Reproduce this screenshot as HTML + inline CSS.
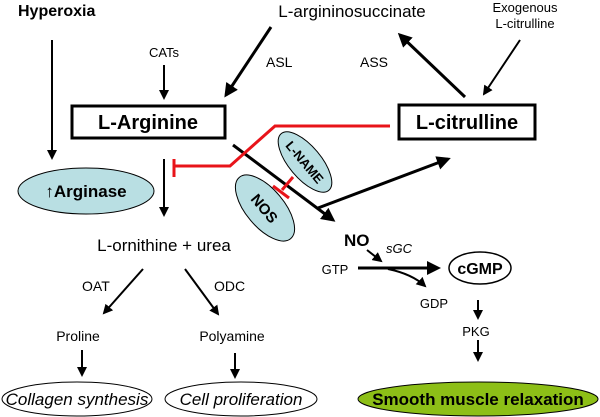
<!DOCTYPE html>
<html><head><meta charset="utf-8"><style>
html,body{margin:0;padding:0;background:#fff;}
svg{display:block;font-family:"Liberation Sans",Arial,sans-serif;}
</style></head><body>
<svg width="600" height="417" viewBox="0 0 600 417" xmlns="http://www.w3.org/2000/svg">
<defs>
<marker id="a" markerWidth="10" markerHeight="10" refX="8" refY="5" orient="auto" markerUnits="userSpaceOnUse"><path d="M0,0 L10,5 L0,10 Z" fill="#000"/></marker>
<marker id="b" markerWidth="14" markerHeight="14" refX="11" refY="7" orient="auto" markerUnits="userSpaceOnUse"><path d="M0,0 L14,7 L0,14 Z" fill="#000"/></marker>
</defs>
<g fill="#000">
<text x="18" y="16" font-size="16" font-weight="bold">Hyperoxia</text>
<text x="352" y="17" font-size="17" text-anchor="middle">L-argininosuccinate</text>
<text x="525" y="12" font-size="13" text-anchor="middle">Exogenous</text>
<text x="525" y="28" font-size="13" text-anchor="middle">L-citrulline</text>
<text x="164" y="57" font-size="13" text-anchor="middle">CATs</text>
<text x="266" y="67" font-size="14">ASL</text>
<text x="360" y="67" font-size="14">ASS</text>
</g>
<g stroke="#000" fill="none">
<line x1="52" y1="40" x2="52" y2="158" stroke-width="2" marker-end="url(#a)"/>
<line x1="164" y1="65" x2="164" y2="98" stroke-width="2" marker-end="url(#a)"/>
<line x1="271" y1="27" x2="226" y2="95" stroke-width="3" marker-end="url(#b)"/>
<line x1="465" y1="97" x2="400" y2="35" stroke-width="3" marker-end="url(#b)"/>
<line x1="520" y1="40" x2="484" y2="94" stroke-width="2" marker-end="url(#a)"/>
<rect x="72" y="106" width="153" height="32" stroke-width="3"/>
<rect x="399" y="105" width="136" height="34" stroke-width="3"/>
</g>
<text x="148" y="129" font-size="20" font-weight="bold" text-anchor="middle">L-Arginine</text>
<text x="467" y="129" font-size="20" font-weight="bold" text-anchor="middle">L-citrulline</text>
<ellipse cx="86" cy="191" rx="68" ry="23" fill="#b9dfe3" stroke="#000" stroke-width="1"/>
<text x="86" y="197" font-size="17" font-weight="bold" text-anchor="middle">↑Arginase</text>
<line x1="164" y1="159" x2="164" y2="215" stroke="#000" stroke-width="2" marker-end="url(#a)"/>
<line x1="233" y1="145" x2="333" y2="220" stroke="#000" stroke-width="3" marker-end="url(#b)"/>
<line x1="318" y1="208" x2="448" y2="159" stroke="#000" stroke-width="3" marker-end="url(#b)"/>
<polyline points="390,126 275,126 230,166 174,166" fill="none" stroke="#e8141a" stroke-width="3"/>
<line x1="174" y1="159" x2="174" y2="177" stroke="#e8141a" stroke-width="3"/>
<ellipse cx="305" cy="162" rx="37" ry="16" transform="rotate(50 305 162)" fill="#b9dfe3" stroke="#000" stroke-width="1"/>
<text x="305" y="167" font-size="13" font-weight="bold" text-anchor="middle" transform="rotate(50 305 162)">L-NAME</text>
<line x1="293" y1="177" x2="282" y2="190" stroke="#e8141a" stroke-width="3"/>
<line x1="273" y1="186" x2="289" y2="198" stroke="#e8141a" stroke-width="3"/>
<ellipse cx="265" cy="208" rx="40" ry="19" transform="rotate(50 265 208)" fill="#b9dfe3" stroke="#000" stroke-width="1"/>
<text x="265" y="214" font-size="15" font-weight="bold" text-anchor="middle" transform="rotate(50 265 208)">NOS</text>
<text x="164" y="251" font-size="17" text-anchor="middle">L-ornithine  + urea</text>
<text x="82" y="291" font-size="14">OAT</text>
<text x="214" y="291" font-size="14">ODC</text>
<line x1="143" y1="269" x2="104" y2="313" stroke="#000" stroke-width="2" marker-end="url(#a)"/>
<line x1="185" y1="269" x2="218" y2="314" stroke="#000" stroke-width="2" marker-end="url(#a)"/>
<text x="78" y="341" font-size="14" text-anchor="middle">Proline</text>
<text x="232" y="341" font-size="14" text-anchor="middle">Polyamine</text>
<line x1="82" y1="350" x2="82" y2="375" stroke="#000" stroke-width="2" marker-end="url(#a)"/>
<line x1="235" y1="353" x2="235" y2="377" stroke="#000" stroke-width="2" marker-end="url(#a)"/>
<ellipse cx="77" cy="399" rx="75" ry="17" fill="#fff" stroke="#000" stroke-width="1"/>
<text x="77" y="405" font-size="17" font-style="italic" text-anchor="middle">Collagen synthesis</text>
<ellipse cx="241" cy="399" rx="76" ry="17" fill="#fff" stroke="#000" stroke-width="1"/>
<text x="241" y="405" font-size="17" font-style="italic" text-anchor="middle">Cell proliferation</text>
<text x="344" y="246" font-size="17" font-weight="bold">NO</text>
<text x="386" y="253" font-size="13" font-style="italic">sGC</text>
<line x1="367" y1="250" x2="381" y2="261" stroke="#000" stroke-width="2" marker-end="url(#a)"/>
<text x="335" y="274" font-size="13" text-anchor="middle">GTP</text>
<line x1="358" y1="268" x2="438" y2="268" stroke="#000" stroke-width="3" marker-end="url(#b)"/>
<path d="M388,269 Q412,274 425,286" fill="none" stroke="#000" stroke-width="2" marker-end="url(#a)"/>
<text x="434" y="308" font-size="13" text-anchor="middle">GDP</text>
<ellipse cx="480" cy="268" rx="31" ry="16" fill="#fff" stroke="#000" stroke-width="1.5"/>
<text x="480" y="274" font-size="16" font-weight="bold" text-anchor="middle">cGMP</text>
<line x1="478" y1="300" x2="478" y2="318" stroke="#000" stroke-width="2" marker-end="url(#a)"/>
<text x="476" y="336" font-size="13" text-anchor="middle">PKG</text>
<line x1="478" y1="340" x2="478" y2="360" stroke="#000" stroke-width="2" marker-end="url(#a)"/>
<ellipse cx="478" cy="399" rx="120" ry="17" fill="#8dbf17" stroke="#000" stroke-width="1"/>
<text x="478" y="405" font-size="17" font-weight="bold" text-anchor="middle">Smooth muscle relaxation</text>
</svg>
</body></html>
